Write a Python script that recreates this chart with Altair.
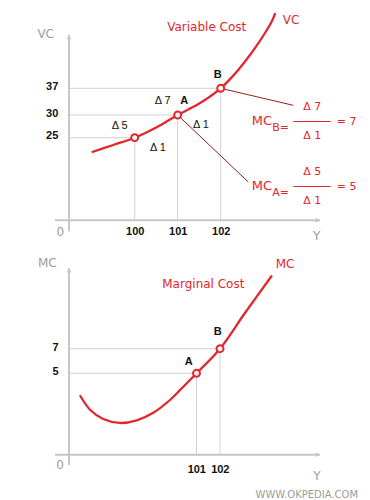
import altair as alt
import pandas as pd

# ------------------------------------------------------------------
# Values
# ------------------------------------------------------------------
# Top panel: Variable Cost curve (output Y  ->  variable cost VC)
VC_Q = [99.0, 99.5, 100.0, 100.5, 101.0, 101.5, 102.0, 102.33, 102.57, 102.8, 103.03, 103.19, 103.27]
VC_V = [20.6, 22.8, 25.0, 27.25, 30.0, 33.0, 37.0, 40.8, 44.1, 47.6, 51.5, 54.6, 56.7]
TOP_Q = [100, 101, 102]          # marked outputs
TOP_VC = [25, 30, 37]            # VC at the marked outputs
TOP_NAMES = ["", "A", "B"]

# Bottom panel: Marginal Cost curve
MC_Q = [96.04, 96.47, 97.03, 97.74, 98.46, 99.16, 99.87, 100.43, 101.0, 102.0, 103.06, 104.21]
MC_V = [3.65, 2.76, 2.19, 1.95, 2.11, 2.57, 3.36, 4.16, 5.0, 7.0, 9.9, 12.95]
BOT_Q = [101, 102]
BOT_MC = [5, 7]
BOT_NAMES = ["A", "B"]

# Formula annotations  MC_B = Δ7/Δ1 = 7 ,  MC_A = Δ5/Δ1 = 5
F_NAME = ["B", "A"]
F_NUM = ["Δ 7", "Δ 5"]
F_DEN = ["Δ 1", "Δ 1"]
F_RES = ["= 7", "= 5"]
F_Q = [102.96, 102.96]           # where each formula sits (top panel units)
F_V = [28.74, 10.47]
F_FROM_Q = [102, 101]            # the point each leader comes from
F_FROM_V = [37, 30]

# axis extents (panel units)
TOP_X_END, TOP_Y_END = 104.31, 51.05
BOT_X_END, BOT_Y_END = 106.26, 13.56

# ------------------------------------------------------------------
# Styles
# ------------------------------------------------------------------
RED = "#e3262c"
DARKRED = "#9e1b1b"
AXIS = "#c6c6c6"
GRID = "#d3d3d3"
GRAYTXT = "#9c9c9c"
BLACK = "#111111"
SANS = "DejaVu Sans"
ARIAL = "Liberation Sans"

W = 354
H_TOP = 240
H_BOT = 244

SX_TOP = alt.Scale(domain=[-1, 0, 99, 105], range=[47, 61, 83.7, 341.7], nice=False, zero=False)
SY_TOP = alt.Scale(domain=[-1, 0, 25, 30, 37, 57], range=[220.3, 209.3, 126.7, 104, 77.3, 1],
                   nice=False, zero=False)
SX_BOT = alt.Scale(domain=[-1, 0, 96, 106], range=[47, 61, 71, 306], nice=False, zero=False)
SY_BOT = alt.Scale(domain=[-1, 0, 5, 12], range=[214, 203.7, 122.3, 36.2], nice=False, zero=False)

UP = "M0,0L-0.8,1.5L0.8,1.5Z"
RIGHT = "M0,0L-1.5,-0.8L-1.5,0.8Z"


def X(sx, f="q"):
    return alt.X(f"{f}:Q", scale=sx, axis=None)


def Y(sy, f="v"):
    return alt.Y(f"{f}:Q", scale=sy, axis=None)


def rules(df, sx, sy, **mk):
    return alt.Chart(df).mark_rule(**mk).encode(x=X(sx), x2="q2:Q", y=Y(sy), y2="v2:Q")


def texts(df, sx, sy, **mk):
    return alt.Chart(df).mark_text(**mk).encode(x=X(sx), y=Y(sy), text="t:N")


def pts(df, sx, sy, **mk):
    return alt.Chart(df).mark_point(**mk).encode(x=X(sx), y=Y(sy))


def one(q, v, t=""):
    return pd.DataFrame({"q": [q], "v": [v], "t": [t]})


def grid_df(qs, vs):
    rows = [dict(q=0, q2=q, v=v, v2=v) for q, v in zip(qs, vs)]
    rows += [dict(q=q, q2=q, v=0, v2=v) for q, v in zip(qs, vs)]
    return pd.DataFrame(rows)


def axes_layers(sx, sy, xend, yend):
    df = pd.DataFrame([dict(q=-1, q2=xend, v=0, v2=0), dict(q=0, q2=0, v=-1, v2=yend)])
    return [
        rules(df, sx, sy, color=AXIS, strokeWidth=2),
        pts(one(0, yend), sx, sy, shape=UP, filled=True, color=AXIS, size=36, opacity=1),
        pts(one(xend, 0), sx, sy, shape=RIGHT, filled=True, color=AXIS, size=36, opacity=1),
    ]


BOLD = dict(font=ARIAL, fontSize=11, fontWeight="bold", color=BLACK)
GRAY = dict(font=SANS, fontSize=12, color=GRAYTXT)
REDT = dict(font=SANS, fontSize=12, color=RED)
CIRCLE = dict(shape="circle", size=48, filled=True, fill="white", stroke=RED, strokeWidth=2, opacity=1)

# ------------------------------------------------------------------
# Top panel
# ------------------------------------------------------------------
sx, sy = SX_TOP, SY_TOP
top_pts = pd.DataFrame({"q": TOP_Q, "v": TOP_VC, "t": TOP_NAMES})
vc_df = pd.DataFrame({"q": VC_Q, "v": VC_V})

d_vc = pd.DataFrame({
    "q": TOP_Q[:-1],
    "v": [(TOP_VC[i] + TOP_VC[i + 1]) / 2 for i in range(len(TOP_VC) - 1)],
    "t": [f"Δ {TOP_VC[i + 1] - TOP_VC[i]}" for i in range(len(TOP_VC) - 1)],
})
d_q = pd.DataFrame({
    "q": [(TOP_Q[i] + TOP_Q[i + 1]) / 2 for i in range(len(TOP_Q) - 1)],
    "v": TOP_VC[:-1],
    "t": [f"Δ {TOP_Q[i + 1] - TOP_Q[i]}" for i in range(len(TOP_Q) - 1)],
})

form = pd.DataFrame({"q": F_Q, "v": F_V, "q2": F_Q, "v2": F_V,
                     "name": F_NAME, "num": F_NUM, "den": F_DEN, "res": F_RES})
LEADER_OFF = [(31.3, -15.4), (-13.7, -3.7)]

top_layers = [rules(grid_df(TOP_Q, TOP_VC), sx, sy, color=GRID, strokeWidth=1)]
top_layers += axes_layers(sx, sy, TOP_X_END, TOP_Y_END)
top_layers += [
    alt.Chart(vc_df).mark_line(color=RED, strokeWidth=2.3, interpolate="catmull-rom")
    .encode(x=X(sx), y=Y(sy)),
]
for i in range(len(F_Q)):
    ld = pd.DataFrame({"q": [F_FROM_Q[i]], "v": [F_FROM_V[i]], "q2": [F_Q[i]], "v2": [F_V[i]]})
    top_layers.append(rules(ld, sx, sy, color=DARKRED, strokeWidth=1,
                            x2Offset=LEADER_OFF[i][0], y2Offset=LEADER_OFF[i][1]))
top_layers += [
    pts(top_pts, sx, sy, **CIRCLE),
    # tick labels
    texts(pd.DataFrame({"q": 0, "v": TOP_VC, "t": [str(v) for v in TOP_VC]}), sx, sy,
          align="right", dx=-10.7, dy=-1.3, **BOLD),
    texts(pd.DataFrame({"q": TOP_Q, "v": 0, "t": [str(q) for q in TOP_Q]}), sx, sy,
          dx=0.5, dy=12, **BOLD),
    texts(one(0, 0, "0"), sx, sy, dx=-8.7, dy=11.7, **GRAY),
    texts(one(0, TOP_Y_END, "VC"), sx, sy, dx=-23.3, dy=-0.7, **GRAY),
    texts(one(TOP_X_END, 0, "Y"), sx, sy, dx=-3.3, dy=16, **GRAY),
    # point names
    texts(top_pts[top_pts.t == "A"], sx, sy, dx=6.6, dy=-14.3, **BOLD),
    texts(top_pts[top_pts.t == "B"], sx, sy, dx=-3, dy=-13, **BOLD),
    # deltas
    texts(d_vc, sx, sy, align="right", dx=-7, dy=-0.7, font=ARIAL, fontSize=11, color=BLACK),
    texts(d_q, sx, sy, dx=1.8, dy=10.3, font=ARIAL, fontSize=11, color=BLACK),
    # curve labels
    texts(one(VC_Q[-1], VC_V[-1], "VC"), sx, sy, dx=15.7, dy=6.6, **REDT),
    texts(one(VC_Q[-1], VC_V[-1], "Variable Cost"), sx, sy, dx=-68.6, dy=13.9, **REDT),
    # formulas
    rules(form, sx, sy, color=RED, strokeWidth=1, xOffset=31.3, x2Offset=68.7, yOffset=0.8, y2Offset=0.8),
    texts(form.assign(t="MC"), sx, sy, font=SANS, fontSize=13, color=RED),
    texts(form.assign(t=form["name"] + "="), sx, sy, align="left", dx=10.3, dy=6.8,
          font=SANS, fontSize=11, color=RED),
    texts(form.assign(t=form["num"]), sx, sy, dx=50.3, dy=-14, font=SANS, fontSize=11, color=RED),
    texts(form.assign(t=form["den"]), sx, sy, dx=50.3, dy=15.6, font=SANS, fontSize=11, color=RED),
    texts(form.assign(t=form["res"]), sx, sy, dx=84.7, dy=1, font=SANS, fontSize=11, color=RED),
]
top = alt.layer(*top_layers).properties(width=W, height=H_TOP)

# ------------------------------------------------------------------
# Bottom panel
# ------------------------------------------------------------------
sx, sy = SX_BOT, SY_BOT
bot_pts = pd.DataFrame({"q": BOT_Q, "v": BOT_MC, "t": BOT_NAMES})
mc_df = pd.DataFrame({"q": MC_Q, "v": MC_V})

bot_layers = [rules(grid_df(BOT_Q, BOT_MC), sx, sy, color=GRID, strokeWidth=1)]
bot_layers += axes_layers(sx, sy, BOT_X_END, BOT_Y_END)
bot_layers += [
    alt.Chart(mc_df).mark_line(color=RED, strokeWidth=2.3, interpolate="catmull-rom")
    .encode(x=X(sx), y=Y(sy)),
    pts(bot_pts, sx, sy, **CIRCLE),
    texts(pd.DataFrame({"q": 0, "v": BOT_MC, "t": [str(v) for v in BOT_MC]}), sx, sy,
          align="right", dx=-10.5, dy=-1, **BOLD),
    texts(pd.DataFrame({"q": BOT_Q, "v": 0, "t": [str(q) for q in BOT_Q]}), sx, sy,
          dx=0.3, dy=15.3, **BOLD),
    texts(one(0, 0, "0"), sx, sy, dx=-9, dy=10.6, **GRAY),
    texts(one(0, BOT_Y_END, "MC"), sx, sy, dx=-21.7, dy=-5, **GRAY),
    texts(one(BOT_X_END, 0, "Y"), sx, sy, dx=-3.3, dy=21, **GRAY),
    texts(one(BOT_X_END, 0, "WWW.OKPEDIA.COM"), sx, sy, dx=-13.3, dy=40,
          font=SANS, fontSize=10, color=GRAYTXT),
    texts(bot_pts[bot_pts.t == "A"], sx, sy, dx=-7.8, dy=-11.6, **BOLD),
    texts(bot_pts[bot_pts.t == "B"], sx, sy, dx=-2.3, dy=-16.4, **BOLD),
    texts(one(MC_Q[-1], MC_V[-1], "MC"), sx, sy, dx=13.1, dy=-11.5, **REDT),
    texts(one(MC_Q[-1], MC_V[-1], "Marginal Cost"), sx, sy, dx=-68.6, dy=8.2, **REDT),
]
bottom = alt.layer(*bot_layers).properties(width=W, height=H_BOT)

chart = (
    alt.vconcat(top, bottom, spacing=0, bounds="flush", padding=0)
    .resolve_scale(x="independent", y="independent")
    .configure_view(strokeWidth=0)
)
chart.save("out.html", embed_options={"renderer": "svg", "actions": False})
